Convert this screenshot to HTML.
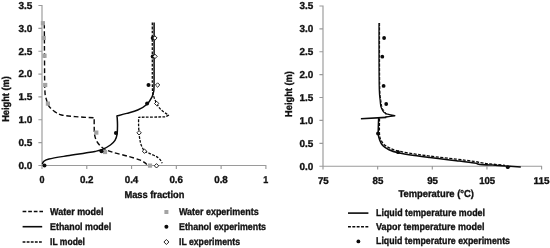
<!DOCTYPE html>
<html><head><meta charset="utf-8"><title>Chart</title>
<style>html,body{margin:0;padding:0;background:#fff}svg{display:block}</style></head>
<body>
<svg width="550" height="248" viewBox="0 0 550 248">
<rect width="550" height="248" fill="#fff"/>
<g font-family="Liberation Sans, Arial, sans-serif" font-weight="bold" text-rendering="geometricPrecision" font-size="10.0" fill="#111" stroke="#111" stroke-width="0.35">
<path d="M42.0,5.0 V166.0 M41.5,165.5 H266.4 M38.4,165.50 H42.0 M38.4,142.64 H42.0 M38.4,119.79 H42.0 M38.4,96.93 H42.0 M38.4,74.07 H42.0 M38.4,51.21 H42.0 M38.4,28.36 H42.0 M38.4,5.50 H42.0 M42.00,165.5 V168.9 M86.78,165.5 V168.9 M131.56,165.5 V168.9 M176.34,165.5 V168.9 M221.12,165.5 V168.9 M265.90,165.5 V168.9 M323.0,5.5 V166.7 M322.5,166.2 H542.1 M319.4,166.20 H323.0 M319.4,143.31 H323.0 M319.4,120.43 H323.0 M319.4,97.54 H323.0 M319.4,74.66 H323.0 M319.4,51.77 H323.0 M319.4,28.89 H323.0 M319.4,6.00 H323.0 M323.00,166.2 V169.6 M377.65,166.2 V169.6 M432.30,166.2 V169.6 M486.95,166.2 V169.6 M541.60,166.2 V169.6" stroke="#9a9a9a" stroke-width="1.15" fill="none"/>
<text x="18.5" y="168.8" textLength="13.9" lengthAdjust="spacingAndGlyphs" >0.0</text>
<text x="299.6" y="169.5" textLength="13.8" lengthAdjust="spacingAndGlyphs" >0.0</text>
<text x="18.5" y="146.0" textLength="13.9" lengthAdjust="spacingAndGlyphs" >0.5</text>
<text x="299.6" y="146.7" textLength="13.8" lengthAdjust="spacingAndGlyphs" >0.5</text>
<text x="18.5" y="123.1" textLength="13.9" lengthAdjust="spacingAndGlyphs" >1.0</text>
<text x="299.6" y="123.8" textLength="13.8" lengthAdjust="spacingAndGlyphs" >1.0</text>
<text x="18.5" y="100.3" textLength="13.9" lengthAdjust="spacingAndGlyphs" >1.5</text>
<text x="299.6" y="100.9" textLength="13.8" lengthAdjust="spacingAndGlyphs" >1.5</text>
<text x="18.5" y="77.4" textLength="13.9" lengthAdjust="spacingAndGlyphs" >2.0</text>
<text x="299.6" y="78.0" textLength="13.8" lengthAdjust="spacingAndGlyphs" >2.0</text>
<text x="18.5" y="54.6" textLength="13.9" lengthAdjust="spacingAndGlyphs" >2.5</text>
<text x="299.6" y="55.1" textLength="13.8" lengthAdjust="spacingAndGlyphs" >2.5</text>
<text x="18.5" y="31.7" textLength="13.9" lengthAdjust="spacingAndGlyphs" >3.0</text>
<text x="299.6" y="32.2" textLength="13.8" lengthAdjust="spacingAndGlyphs" >3.0</text>
<text x="18.5" y="8.8" textLength="13.9" lengthAdjust="spacingAndGlyphs" >3.5</text>
<text x="299.6" y="9.3" textLength="13.8" lengthAdjust="spacingAndGlyphs" >3.5</text>
<text x="39.4" y="182.9" textLength="5.0" lengthAdjust="spacingAndGlyphs" >0</text>
<text x="79.9" y="182.9" textLength="13.6" lengthAdjust="spacingAndGlyphs" >0.2</text>
<text x="124.7" y="182.9" textLength="13.6" lengthAdjust="spacingAndGlyphs" >0.4</text>
<text x="169.4" y="182.9" textLength="13.6" lengthAdjust="spacingAndGlyphs" >0.6</text>
<text x="214.2" y="182.9" textLength="13.6" lengthAdjust="spacingAndGlyphs" >0.8</text>
<text x="263.3" y="182.9" textLength="5.0" lengthAdjust="spacingAndGlyphs" >1</text>
<text x="317.9" y="184.0" textLength="10.8" lengthAdjust="spacingAndGlyphs" >75</text>
<text x="372.6" y="184.0" textLength="10.8" lengthAdjust="spacingAndGlyphs" >85</text>
<text x="427.2" y="184.0" textLength="10.8" lengthAdjust="spacingAndGlyphs" >95</text>
<text x="479.2" y="184.0" textLength="16.0" lengthAdjust="spacingAndGlyphs" >105</text>
<text x="533.6" y="184.0" textLength="16.0" lengthAdjust="spacingAndGlyphs" >115</text>
<text x="124.4" y="197.6" textLength="60.0" lengthAdjust="spacingAndGlyphs" >Mass fraction</text>
<text x="398.4" y="197.4" textLength="75.6" lengthAdjust="spacingAndGlyphs" >Temperature (°C)</text>
<text transform="translate(9.2,121.8) rotate(-90)" textLength="45.6" lengthAdjust="spacingAndGlyphs">Height (m)</text>
<text transform="translate(291.6,116.9) rotate(-90)" textLength="45.8" lengthAdjust="spacingAndGlyphs">Height (m)</text>
<text x="50.0" y="214.7" textLength="53.6" lengthAdjust="spacingAndGlyphs" >Water model</text>
<text x="50.0" y="229.9" textLength="61.2" lengthAdjust="spacingAndGlyphs" >Ethanol model</text>
<text x="50.0" y="245.0" textLength="35.0" lengthAdjust="spacingAndGlyphs" >IL model</text>
<text x="179.0" y="214.7" textLength="79.6" lengthAdjust="spacingAndGlyphs" >Water experiments</text>
<text x="179.0" y="229.9" textLength="87.0" lengthAdjust="spacingAndGlyphs" >Ethanol experiments</text>
<text x="179.0" y="245.0" textLength="61.0" lengthAdjust="spacingAndGlyphs" >IL experiments</text>
<text x="376.0" y="216.0" textLength="109.0" lengthAdjust="spacingAndGlyphs" >Liquid temperature model</text>
<text x="376.0" y="230.1" textLength="108.4" lengthAdjust="spacingAndGlyphs" >Vapor temperature model</text>
<text x="376.0" y="244.3" textLength="134.0" lengthAdjust="spacingAndGlyphs" >Liquid temperature experiments</text>
</g>
<g fill="none" stroke="#0a0a0a" stroke-linejoin="round">
<path d="M44.30,22.80 C44.32,25.67 44.37,34.47 44.40,40.00 C44.43,45.53 44.47,50.17 44.50,56.00 C44.53,61.83 44.57,70.17 44.60,75.00 C44.63,79.83 44.65,82.33 44.70,85.00 C44.75,87.67 44.80,89.25 44.90,91.00 C45.00,92.75 45.05,94.08 45.30,95.50 C45.55,96.92 46.00,98.08 46.40,99.50 C46.80,100.92 47.07,102.62 47.70,104.00 C48.33,105.38 48.98,106.50 50.20,107.80 C51.42,109.10 53.12,110.60 55.00,111.80 C56.88,113.00 58.17,114.20 61.50,115.00 C64.83,115.80 69.55,116.13 75.00,116.60 C80.45,117.07 91.00,117.60 94.20,117.80 C94.20,119.00 94.15,122.30 94.20,125.00 C94.25,127.70 94.15,131.43 94.50,134.00 C94.85,136.57 95.40,138.50 96.30,140.40 C97.20,142.30 98.55,143.97 99.90,145.40 C101.25,146.83 102.20,147.83 104.40,149.00 C106.60,150.17 109.22,151.20 113.10,152.40 C116.98,153.60 123.15,154.90 127.70,156.20 C132.25,157.50 137.45,159.03 140.40,160.20 C143.35,161.37 144.33,162.47 145.40,163.20 C146.47,163.93 146.57,164.37 146.80,164.60" stroke-width="1.4" stroke-dasharray="4.8 2.6" stroke-dashoffset="6.4"/>
<path d="M152.30,22.60 C152.30,28.83 152.28,49.10 152.30,60.00 C152.32,70.90 152.23,82.17 152.40,88.00 C152.57,93.83 152.58,92.40 153.30,95.00 C154.02,97.60 155.37,101.10 156.70,103.60 C158.03,106.10 159.32,108.07 161.30,110.00 C163.28,111.93 167.38,114.33 168.60,115.20 C168.03,115.48 165.77,116.62 165.20,116.90 C160.77,116.97 143.03,117.23 138.60,117.30 C138.60,118.58 138.52,122.22 138.60,125.00 C138.68,127.78 138.83,131.28 139.10,134.00 C139.37,136.72 139.78,139.30 140.20,141.30 C140.62,143.30 140.83,144.38 141.60,146.00 C142.37,147.62 143.08,149.60 144.80,151.00 C146.52,152.40 149.75,153.33 151.90,154.40 C154.05,155.47 156.20,156.37 157.70,157.40 C159.20,158.43 160.17,159.63 160.90,160.60 C161.63,161.57 161.90,162.77 162.10,163.20" stroke-width="1.3" stroke-dasharray="2.7 1.4"/>
<path d="M154.10,22.60 C154.10,28.83 154.12,49.10 154.10,60.00 C154.08,70.90 154.15,82.50 154.00,88.00 C153.85,93.50 153.57,91.45 153.20,93.00 C152.83,94.55 152.82,95.43 151.80,97.30 C150.78,99.17 149.45,102.08 147.10,104.20 C144.75,106.32 141.08,108.47 137.70,110.00 C134.32,111.53 130.27,112.42 126.80,113.40 C123.33,114.38 118.55,115.48 116.90,115.90 C116.95,116.25 117.10,116.48 117.20,118.00 C117.30,119.52 117.52,122.32 117.50,125.00 C117.48,127.68 117.52,131.53 117.10,134.10 C116.68,136.67 116.12,138.58 115.00,140.40 C113.88,142.22 112.52,143.48 110.40,145.00 C108.28,146.52 104.87,148.43 102.30,149.50 C99.73,150.57 97.82,150.82 95.00,151.40 C92.18,151.98 90.03,152.27 85.40,153.00 C80.77,153.73 73.27,154.80 67.20,155.80 C61.13,156.80 52.90,158.07 49.00,159.00 C45.10,159.93 44.92,160.53 43.80,161.40 C42.68,162.27 42.55,163.73 42.30,164.20" stroke-width="1.5"/>
<path d="M379.00,23.00 C379.00,29.17 378.95,48.83 379.00,60.00 C379.05,71.17 379.10,83.18 379.30,90.00 C379.50,96.82 380.00,98.57 380.20,100.90 C380.40,103.23 380.38,103.03 380.50,104.00 C380.62,104.97 380.68,105.90 380.90,106.70 C381.12,107.50 381.42,108.03 381.80,108.80 C382.18,109.57 382.67,110.58 383.20,111.30 C383.73,112.02 384.43,112.67 385.00,113.10 C385.57,113.53 386.33,113.77 386.60,113.90 C387.97,114.21 393.43,115.44 394.80,115.75 C393.32,115.96 387.38,116.79 385.90,117.00" stroke-width="1.3"/>
<path d="M378.70,117.70 C378.65,118.92 378.47,122.27 378.40,125.00 C378.33,127.73 378.10,131.63 378.30,134.10 C378.50,136.57 378.87,137.90 379.60,139.80 C380.33,141.70 381.13,143.83 382.70,145.50 C384.27,147.17 386.43,148.58 389.00,149.80 C391.57,151.02 393.87,151.83 398.10,152.80 C402.33,153.77 409.08,154.80 414.40,155.60 C419.72,156.40 426.05,157.12 430.00,157.60 C433.95,158.08 433.72,157.98 438.10,158.50 C442.48,159.02 450.25,159.93 456.30,160.70 C462.35,161.47 470.47,162.47 474.40,163.10 C478.33,163.73 477.30,164.18 479.90,164.50 C482.50,164.82 486.98,164.85 490.00,165.00 C493.02,165.15 492.87,165.07 498.00,165.40 C503.13,165.73 517.00,166.73 520.80,167.00" stroke-width="1.55"/>
<path d="M379.50,118.50 C379.48,120.42 379.37,127.08 379.40,130.00 C379.43,132.92 379.43,134.30 379.70,136.00 C379.97,137.70 380.05,138.60 381.00,140.20 C381.95,141.80 382.85,143.88 385.40,145.60 C387.95,147.32 391.47,149.12 396.30,150.50 C401.13,151.88 408.78,152.97 414.40,153.90 C420.02,154.83 423.07,155.23 430.00,156.10 C436.93,156.97 448.67,158.22 456.00,159.10 C463.33,159.98 469.17,160.68 474.00,161.40 C478.83,162.12 482.33,162.98 485.00,163.40 C487.67,163.82 486.67,163.58 490.00,163.90 C493.33,164.22 502.50,165.07 505.00,165.30" stroke-width="1.3" stroke-dasharray="3 1.5"/>
<path d="M386.2,117.45 L360.9,118.75" stroke-width="1.75"/>
<path d="M379.60,23.00 C379.60,29.17 379.55,48.83 379.60,60.00 C379.65,71.17 379.68,83.25 379.90,90.00 C380.12,96.75 380.58,97.72 380.90,100.50 C381.22,103.28 381.35,105.05 381.80,106.70 C382.25,108.35 382.92,109.32 383.60,110.40 C384.28,111.48 385.52,112.73 385.90,113.20 C385.90,113.83 385.90,116.37 385.90,117.00" stroke-width="1.0" stroke-dasharray="3 1.5"/>
<path d="M22.6,211.5 H43" stroke-width="1.5" stroke-dasharray="3.7 1.9"/>
<path d="M22.6,226.7 H42.2" stroke-width="1.6"/>
<path d="M22.6,241.9 H41.8" stroke-width="1.5" stroke-dasharray="2.8 1.3"/>
<path d="M348,213.1 H368.4" stroke-width="1.6"/>
<path d="M348,226.7 H368.4" stroke-width="1.5" stroke-dasharray="2.9 1.45"/>
</g>
<rect x="40.80" y="21.10" width="4.2" height="4.2" fill="#a3a3a3"/>
<rect x="41.70" y="35.90" width="4.2" height="4.2" fill="#a3a3a3"/>
<rect x="42.40" y="53.70" width="4.2" height="4.2" fill="#a3a3a3"/>
<rect x="43.10" y="82.90" width="4.2" height="4.2" fill="#a3a3a3"/>
<rect x="45.80" y="101.50" width="4.2" height="4.2" fill="#a3a3a3"/>
<rect x="94.20" y="130.50" width="4.2" height="4.2" fill="#a3a3a3"/>
<rect x="102.90" y="149.90" width="4.2" height="4.2" fill="#a3a3a3"/>
<rect x="147.90" y="163.50" width="4.2" height="4.2" fill="#a3a3a3"/>
<circle cx="152.70" cy="38.00" r="2.0" fill="#0a0a0a"/>
<circle cx="152.70" cy="56.40" r="2.0" fill="#0a0a0a"/>
<circle cx="148.50" cy="85.00" r="2.0" fill="#0a0a0a"/>
<circle cx="147.10" cy="103.40" r="2.0" fill="#0a0a0a"/>
<circle cx="115.90" cy="133.00" r="2.0" fill="#0a0a0a"/>
<circle cx="101.50" cy="151.20" r="2.0" fill="#0a0a0a"/>
<circle cx="44.50" cy="165.40" r="2.0" fill="#0a0a0a"/>
<path d="M152.70,38.00 L154.90,35.80 L157.10,38.00 L154.90,40.20 Z" fill="#fff" stroke="#0a0a0a" stroke-width="0.9"/>
<path d="M152.80,56.40 L155.00,54.20 L157.20,56.40 L155.00,58.60 Z" fill="#fff" stroke="#0a0a0a" stroke-width="0.9"/>
<path d="M155.40,85.00 L157.60,82.80 L159.80,85.00 L157.60,87.20 Z" fill="#fff" stroke="#0a0a0a" stroke-width="0.9"/>
<path d="M154.50,103.50 L156.70,101.30 L158.90,103.50 L156.70,105.70 Z" fill="#fff" stroke="#0a0a0a" stroke-width="0.9"/>
<path d="M136.90,132.80 L139.10,130.60 L141.30,132.80 L139.10,135.00 Z" fill="#fff" stroke="#0a0a0a" stroke-width="0.9"/>
<path d="M142.30,151.20 L144.50,149.00 L146.70,151.20 L144.50,153.40 Z" fill="#fff" stroke="#0a0a0a" stroke-width="0.9"/>
<path d="M154.30,165.80 L156.50,163.60 L158.70,165.80 L156.50,168.00 Z" fill="#fff" stroke="#0a0a0a" stroke-width="0.9"/>
<circle cx="384.10" cy="38.00" r="1.9" fill="#0a0a0a"/>
<circle cx="382.30" cy="56.70" r="1.9" fill="#0a0a0a"/>
<circle cx="383.60" cy="85.90" r="1.9" fill="#0a0a0a"/>
<circle cx="386.20" cy="104.00" r="1.9" fill="#0a0a0a"/>
<circle cx="378.00" cy="133.50" r="1.9" fill="#0a0a0a"/>
<circle cx="398.10" cy="152.20" r="1.9" fill="#0a0a0a"/>
<circle cx="507.80" cy="167.20" r="1.9" fill="#0a0a0a"/>
<rect x="164.40" y="210.00" width="4.0" height="4.0" fill="#a3a3a3"/>
<circle cx="166.40" cy="226.70" r="2.0" fill="#0a0a0a"/>
<path d="M163.90,242.00 L166.40,239.50 L168.90,242.00 L166.40,244.50 Z" fill="#fff" stroke="#0a0a0a" stroke-width="0.9"/>
<circle cx="358.40" cy="241.40" r="1.9" fill="#0a0a0a"/>
</svg>
</body></html>
